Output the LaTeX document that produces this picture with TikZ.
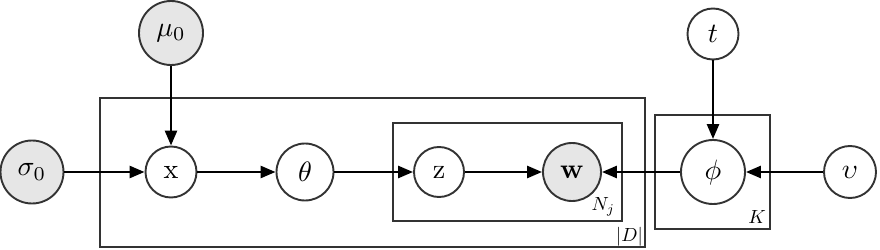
\documentclass[tikz,border=0pt]{standalone}
\usepackage{graphicx}
\usetikzlibrary{arrows.meta}
\definecolor{nodegray}{HTML}{E6E6E6}
\definecolor{edgegray}{HTML}{333333}
\newcommand{\bigsym}[1]{\scalebox{2.8}{$#1$}}
\newcommand{\labsym}[1]{\scalebox{1.9}{$#1$}}
\begin{document}
\begin{tikzpicture}[x=1pt,y=1pt,
  var/.style={circle,draw=edgegray,line width=1.9pt,fill=white,inner sep=0pt},
  obs/.style={var,fill=nodegray},
  plate/.style={draw=edgegray,line width=1.2pt},
  platelabel/.style={inner sep=0pt,anchor=base east},
  edge/.style={line width=2.6pt,-{Triangle[length=15pt,width=12pt]}}
]
\useasboundingbox (0,0) rectangle (880,249);
% plates
\draw[plate] (100,2) rectangle (645,151);
\draw[plate] (393,28) rectangle (622,126);
\draw[plate] (655,20) rectangle (770,134);
\node[platelabel] (lD) at (643,8) {\labsym{|D|}};
\node[platelabel] (lN) at (615,38) {\labsym{N_j}};
\node[platelabel] (lK) at (766,26) {\labsym{K}};
% nodes
\node[obs,minimum size=63pt] (s0) at (32,77) {\bigsym{\sigma_0}};
\node[obs,minimum size=64pt] (m0) at (171,216) {\bigsym{\mu_0}};
\node[var,minimum size=51pt] (x) at (171,77) {\bigsym{\mathrm{x}}};
\node[var,minimum size=57pt] (th) at (305,77) {\bigsym{\theta}};
\node[var,minimum size=50pt] (z) at (439,77) {\bigsym{\mathrm{z}}};
\node[obs,minimum size=58pt] (w) at (572,77) {\bigsym{\mathbf{w}}};
\node[var,minimum size=64pt] (ph) at (713,77) {\bigsym{\phi}};
\node[var,minimum size=51pt] (t) at (713,215) {\bigsym{t}};
\node[var,minimum size=52pt] (v) at (850,77) {\bigsym{\upsilon}};
% edges
\draw[edge] (s0) -- (x);
\draw[edge] (m0) -- (x);
\draw[edge] (x) -- (th);
\draw[edge] (th) -- (z);
\draw[edge] (z) -- (w);
\draw[edge] (ph) -- (w);
\draw[edge] (t) -- (ph);
\draw[edge] (v) -- (ph);
\end{tikzpicture}
\end{document}
